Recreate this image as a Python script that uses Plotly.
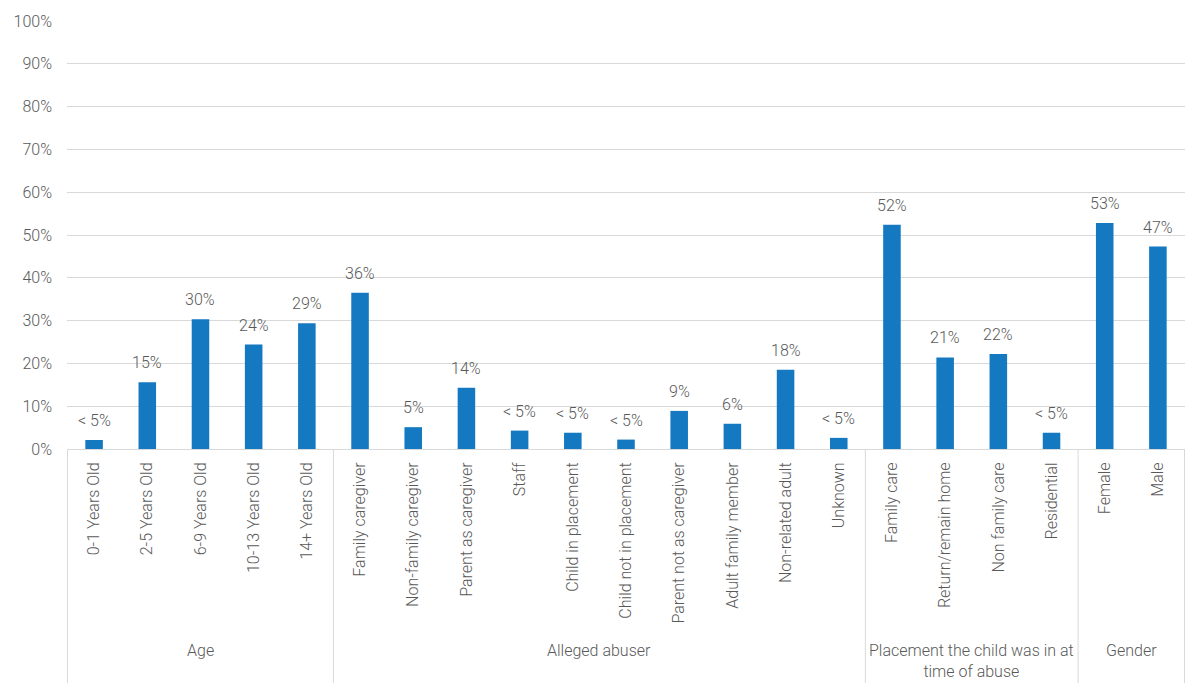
import plotly.graph_objects as go

groups = ["Age", "Alleged abuser", "Placement the child was in at<br>time of abuse", "Gender"]
group_sizes = [5, 10, 4, 2]

categories = [
    "0-1 Years Old", "2-5 Years Old", "6-9 Years Old", "10-13 Years Old", "14+ Years Old",
    "Family caregiver", "Non-family caregiver", "Parent as caregiver", "Staff",
    "Child in placement", "Child not in placement", "Parent not as caregiver",
    "Adult family member", "Non-related adult", "Unknown",
    "Family care", "Return/remain home", "Non family care", "Residential",
    "Female", "Male",
]
values = [
    2.1, 15.6, 30.3, 24.4, 29.4,
    36.5, 5.1, 14.3, 4.3, 3.8, 2.2, 8.9, 5.9, 18.5, 2.6,
    52.4, 21.4, 22.2, 3.8,
    52.8, 47.3,
]
value_labels = [
    "< 5%", "15%", "30%", "24%", "29%",
    "36%", "5%", "14%", "< 5%", "< 5%", "< 5%", "9%", "6%", "18%", "< 5%",
    "52%", "21%", "22%", "< 5%",
    "53%", "47%",
]
y_ticks = list(range(0, 101, 10))
y_tick_labels = [f"{v}%" for v in y_ticks]

BAR = "#1479C1"
TXT = "#595959"
GRID = "#D9D9D9"
FONT = "Roboto"
FS = 16
FW = 300

fig = go.Figure()
fig.add_trace(go.Bar(x=categories, y=values, marker=dict(color=BAR, line=dict(width=0)),
                     hoverinfo="x+y"))

annotations = []
for c, v, t in zip(categories, values, value_labels):
    annotations.append(dict(x=c, y=v, xref="x", yref="y", text=t, showarrow=False,
                            yanchor="bottom", yshift=8,
                            font=dict(family=FONT, size=FS, color=TXT, weight=FW)))

shapes = []
start = 0
bounds = [-0.5]
for g, n in zip(groups, group_sizes):
    center = start + (n - 1) / 2
    annotations.append(dict(x=center, y=-0.443, xref="x", yref="paper", text=g,
                            showarrow=False, yanchor="top", align="center",
                            font=dict(family=FONT, size=FS, color=TXT, weight=FW)))
    start += n
    bounds.append(start - 0.5)
for b in bounds:
    shapes.append(dict(type="line", xref="x", yref="paper", x0=b, x1=b, y0=0, y1=-0.56,
                       line=dict(color=GRID, width=1)))

fig.update_layout(
    width=1200, height=683,
    margin=dict(l=67, r=15, t=16, b=234),
    paper_bgcolor="white", plot_bgcolor="white",
    showlegend=False,
    bargap=0.67,
    font=dict(family=FONT, size=FS, color=TXT),
    annotations=annotations,
    shapes=shapes,
    xaxis=dict(type="category", tickangle=-90, showgrid=False, showline=True,
               linecolor=GRID, linewidth=1, ticks="", ticklabelstandoff=6,
               tickfont=dict(family=FONT, size=FS, color=TXT, weight=FW)),
    yaxis=dict(range=[0, 100], tickmode="array", tickvals=y_ticks, ticktext=y_tick_labels,
               showgrid=True, gridcolor=GRID, gridwidth=1, zeroline=False, showline=False,
               ticks="", ticklabelstandoff=14,
               tickfont=dict(family=FONT, size=FS, color=TXT, weight=FW)),
)

fig.write_html("out.html")
